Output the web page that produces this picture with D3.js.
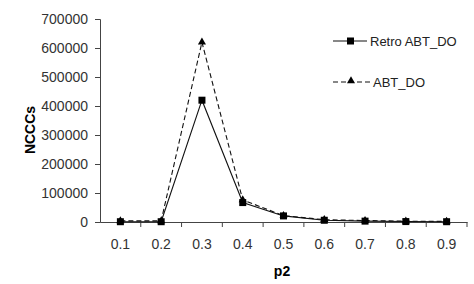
<!DOCTYPE html>
<html lang="en">
<head>
    <meta charset="UTF-8">
    <title>NCCCs vs p2</title>
    <script src="https://d3js.org/d3.v7.min.js"></script>
    <style>
        body { margin: 0; background: #fff; }
        text { font-family: "Liberation Sans", Arial, sans-serif; }
    </style>
</head>
<body>
<svg width="474" height="284"></svg>
<script>
    // data
    let categories = ["0.1", "0.2", "0.3", "0.4", "0.5", "0.6", "0.7", "0.8", "0.9"]
    let retroValues = [1000, 1000, 420000, 67000, 21000, 6000, 3000, 1500, 1000]
    let abtValues = [4000, 4000, 620000, 76000, 22000, 8000, 5000, 3000, 2000]
    let yTicks = [0, 100000, 200000, 300000, 400000, 500000, 600000, 700000]

    let svg = d3.select('svg')
    let plotLeft = 100, plotRight = 467, plotTop = 19, plotBottom = 222

    let x = d3.scaleBand().domain(categories).range([plotLeft, plotRight])
    let y = d3.scaleLinear().domain([0, 700000]).range([plotBottom, plotTop])

    // y axis
    let yAxis = svg.append("g")
        .attr("transform", `translate(${plotLeft},0)`)
        .call(d3.axisLeft(y).tickValues(yTicks).tickFormat(d3.format("d")).tickSize(5).tickPadding(7))
    yAxis.select(".domain").attr("stroke", "#444")
    yAxis.selectAll(".tick line").attr("stroke", "#444")
    yAxis.selectAll("text").attr("font-size", 14).attr("fill", "#333")

    // x axis, ticks between categories
    let xAxis = svg.append("g")
        .attr("transform", `translate(0,${plotBottom})`)
        .call(d3.axisBottom(x).tickSize(0).tickPadding(17))
    xAxis.select(".domain").attr("stroke", "#444")
    xAxis.selectAll("text").attr("font-size", 14).attr("fill", "#333")
    xAxis.selectAll(".sep")
        .data(categories)
        .enter()
        .append("line")
        .attr("x1", d => x(d) + x.bandwidth())
        .attr("x2", d => x(d) + x.bandwidth())
        .attr("y1", 0)
        .attr("y2", 5)
        .attr("stroke", "#444")

    // axis titles
    svg.append("text")
        .attr("x", 282).attr("y", 276)
        .attr("text-anchor", "middle")
        .attr("font-size", 14).attr("font-weight", "bold")
        .text("p2")
    svg.append("text")
        .attr("transform", "translate(35,130) rotate(-90)")
        .attr("text-anchor", "middle")
        .attr("font-size", 14).attr("font-weight", "bold")
        .text("NCCCs")

    let cx = d => x(d) + x.bandwidth() / 2
    let line = d3.line().x(d => cx(d[0])).y(d => y(d[1]))

    let retro = categories.map((c, i) => [c, retroValues[i]])
    let abt = categories.map((c, i) => [c, abtValues[i]])

    svg.append("path")
        .datum(abt)
        .attr("d", line)
        .attr("fill", "none")
        .attr("stroke", "#111")
        .attr("stroke-width", 1.1)
        .attr("stroke-dasharray", "5,3")
    svg.append("path")
        .datum(retro)
        .attr("d", line)
        .attr("fill", "none")
        .attr("stroke", "#111")
        .attr("stroke-width", 1.1)

    let tri = d3.symbol().type(d3.symbolTriangle).size(28)
    svg.selectAll(".tri")
        .data(abt)
        .enter()
        .append("path")
        .attr("d", tri)
        .attr("transform", d => `translate(${cx(d[0])},${y(d[1])})`)
        .attr("fill", "#000")
    svg.selectAll(".sq")
        .data(retro)
        .enter()
        .append("rect")
        .attr("x", d => cx(d[0]) - 3.5)
        .attr("y", d => y(d[1]) - 3.5)
        .attr("width", 7).attr("height", 7)
        .attr("fill", "#000")

    // legend
    let legend = svg.append("g")
    legend.append("line").attr("x1", 333).attr("x2", 367).attr("y1", 41).attr("y2", 41)
        .attr("stroke", "#111").attr("stroke-width", 1.1)
    legend.append("rect").attr("x", 347).attr("y", 37.5).attr("width", 7).attr("height", 7).attr("fill", "#000")
    legend.append("text").attr("x", 370).attr("y", 46).attr("font-size", 13).attr("fill", "#222").text("Retro ABT_DO")
    legend.append("line").attr("x1", 333).attr("x2", 372).attr("y1", 82).attr("y2", 82)
        .attr("stroke", "#111").attr("stroke-width", 1.1).attr("stroke-dasharray", "5,3")
    legend.append("path").attr("d", tri).attr("transform", "translate(351,81)").attr("fill", "#000")
    legend.append("text").attr("x", 373).attr("y", 87).attr("font-size", 13).attr("fill", "#222").text("ABT_DO")
</script>
</body>
</html>
